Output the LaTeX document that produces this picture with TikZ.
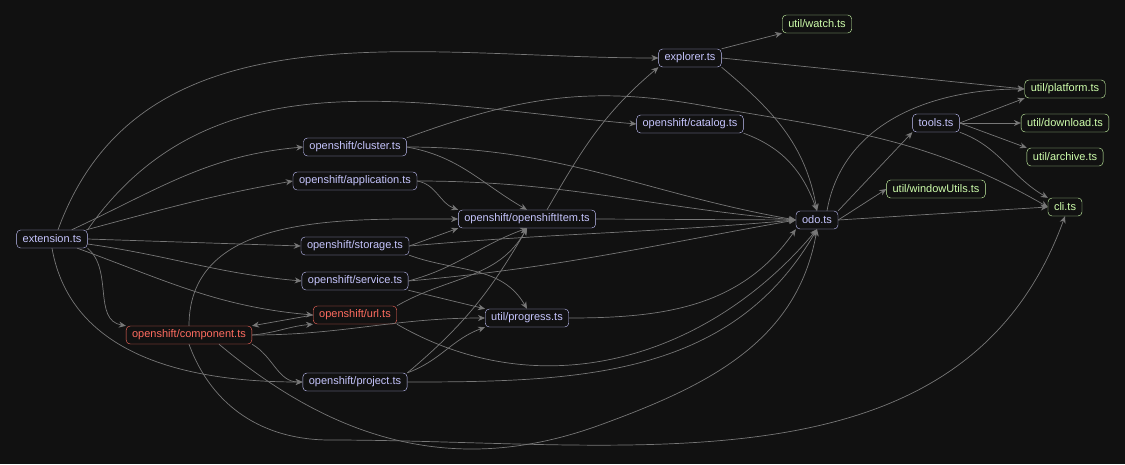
\documentclass[tikz,border=0pt]{standalone}
\usepackage{fontspec}
\setmainfont{Liberation Sans}
\usetikzlibrary{arrows.meta}
\definecolor{bg}{HTML}{111111}
\definecolor{lav}{HTML}{C6C5FE}
\definecolor{redc}{HTML}{FF6C60}
\definecolor{grn}{HTML}{CFFFAC}
\definecolor{edge}{HTML}{777777}
\begin{document}
\begin{tikzpicture}[x=1pt,y=-1pt,
  mod/.style={draw=lav,text=lav,rounded corners=4pt,minimum height=18pt,inner xsep=6pt,inner ysep=2pt,font=\fontsize{11}{13}\selectfont,fill=bg},
  modr/.style={mod,draw=redc,text=redc},
  modg/.style={mod,draw=grn,text=grn},
  dep/.style={draw=edge,line width=0.7pt,-{Stealth[length=7pt,width=6pt]}}]
\fill[bg] (0,0) rectangle (1125,464);
\useasboundingbox (0,0) rectangle (1125,464);
% nodes
\node[mod] (ext) at (52,239) {extension.ts};
\node[mod] (clu) at (355,147) {openshift/cluster.ts};
\node[mod] (app) at (355,181) {openshift/application.ts};
\node[mod] (sto) at (355,246) {openshift/storage.ts};
\node[mod] (ser) at (355,281) {openshift/service.ts};
\node[modr] (url) at (355,315) {openshift/url.ts};
\node[modr] (com) at (189,335) {openshift/component.ts};
\node[mod] (pro) at (355,382) {openshift/project.ts};
\node[mod] (itm) at (527,219) {openshift/openshiftItem.ts};
\node[mod] (prg) at (527,318) {util/progress.ts};
\node[mod] (exp) at (690,58) {explorer.ts};
\node[mod] (cat) at (690,124) {openshift/catalog.ts};
\node[mod] (odo) at (817,220) {odo.ts};
\node[mod] (too) at (936,123) {tools.ts};
\node[modg] (win) at (936,189) {util/windowUtils.ts};
\node[modg] (wat) at (817,24) {util/watch.ts};
\node[modg] (pla) at (1065,89) {util/platform.ts};
\node[modg] (dow) at (1065,123) {util/download.ts};
\node[modg] (arc) at (1065,157) {util/archive.ts};
\node[modg] (cli) at (1065,207) {cli.ts};
% edges
\draw[dep] (ext.north) ++(6,0) to[out=70,in=180] (exp.west);
\draw[dep] (ext.north east) to[out=55,in=175] (cat.west);
\draw[dep] (ext) to[out=25,in=185] (clu.west);
\draw[dep] (ext) to[out=15,in=190] (app.west);
\draw[dep] (ext.east) to (sto.west);
\draw[dep] (ext) to[out=-8,in=175] (ser.west);
\draw[dep] (ext) to[out=-20,in=175] (url.west);
\draw[dep] (ext.south east) to[out=-40,in=170] (com.north west);
\draw[dep] (ext.south) to[out=-80,in=180] (pro.west);
\draw[dep] (clu.east) to[out=-10,in=150] (itm.north);
\draw[dep] (clu.east) to[out=0,in=170] (odo.west);
\draw[dep] (clu.north east) to[out=20,in=170] (700,105) to[out=-10,in=150] (cli.west);
\draw[dep] (app.east) to[out=-10,in=160] (itm.north west);
\draw[dep] (app.east) to[out=0,in=175] (odo.west);
\draw[dep] (sto.east) to (itm.south west);
\draw[dep] (sto.east) to[out=5,in=185] (odo.west);
\draw[dep] (sto.south east) to[out=-20,in=120] (prg.north);
\draw[dep] (ser.east) to[out=15,in=200] (itm.south);
\draw[dep] (ser.east) to[out=5,in=190] (odo.west);
\draw[dep] (ser.south east) to (prg.north west);
\draw[dep] (url.north east) to[out=30,in=240] (itm.south);
\draw[dep] (url.south east) to[out=-30,in=230] (odo.south);
\draw[dep] (url.west) to (com.north east);
\draw[dep] (com.north) to[out=90,in=180] (itm.west);
\draw[dep] (com.east) to[out=5,in=185] (url.south west);
\draw[dep] (com.east) to[out=0,in=180] (prg.west);
\draw[dep] (com.south east) to[out=-30,in=180] (pro.west);
\draw[dep] (com.south) ++(30,0) to[out=-40,in=200] (600,425) to[out=20,in=260] (odo.south);
\draw[dep] (com.south) to[out=-70,in=180] (330,440) to[out=0,in=250] (cli.south);
\draw[dep] (pro.north east) to[out=40,in=240] (itm.south);
\draw[dep] (pro.north east) to[out=20,in=200] (prg.south west);
\draw[dep] (pro.east) to[out=0,in=240] (odo.south);
\draw[dep] (itm.north) ++(20,0) to[out=60,in=220] (exp.south west);
\draw[dep] (itm.east) to (odo.west);
\draw[dep] (prg.east) to[out=0,in=235] (odo.south west);
\draw[dep] (exp.north east) to (wat.south west);
\draw[dep] (exp.east) to (pla.west);
\draw[dep] (exp.south east) to[out=-40,in=100] (odo.north);
\draw[dep] (cat.south east) to[out=-20,in=110] (odo.north);
\draw[dep] (odo.north) ++(10,0) to[out=80,in=180] (pla.west);
\draw[dep] (odo.north east) to (too.south west);
\draw[dep] (odo.east) to (win.west);
\draw[dep] (odo.east) to (cli.west);
\draw[dep] (too.east) to (pla.south west);
\draw[dep] (too.east) to (dow.west);
\draw[dep] (too.east) to (arc.north west);
\draw[dep] (too.south east) to[out=-20,in=150] (cli.north west);
\end{tikzpicture}
\end{document}
